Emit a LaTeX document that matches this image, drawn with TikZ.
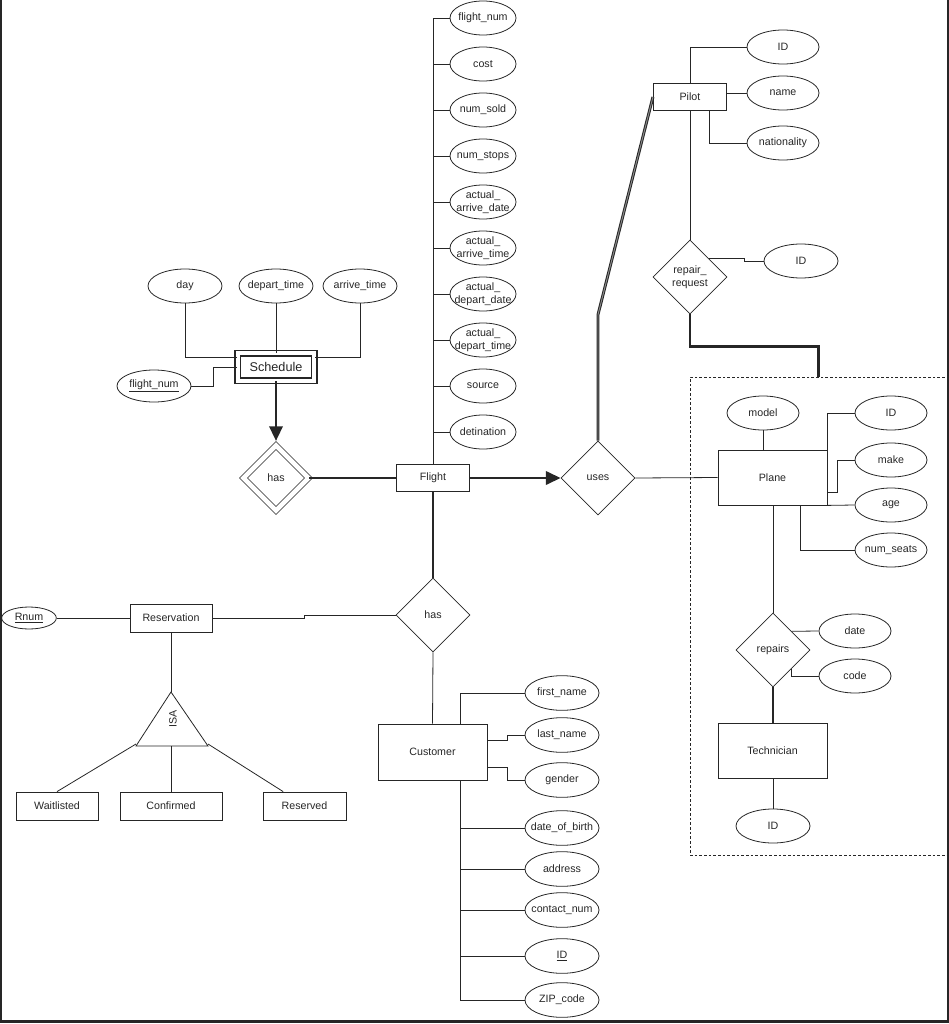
\documentclass[tikz,border=0pt]{standalone}
\usepackage{fontspec}
\setmainfont{Liberation Sans}
\usetikzlibrary{shapes.geometric, arrows.meta, positioning}

\tikzset{
  every node/.style={font=\fontsize{8}{9.5}\selectfont},
  entity/.style={draw, rectangle, inner sep=0pt, minimum width=55pt, minimum height=20pt},
  subentity/.style={entity, minimum width=61.5pt, minimum height=21pt},
  bigentity/.style={entity, minimum width=81.75pt, minimum height=41.25pt},
  weakentity/.style={draw, rectangle, double, double distance=3.2pt, line width=1.1pt, inner sep=0pt,
    minimum width=57.5pt, minimum height=20.5pt, font=\fontsize{9.5}{11}\selectfont},
  attr/.style={draw, ellipse, inner xsep=-6pt, inner ysep=-3pt, minimum width=54pt, minimum height=25.5pt, align=center},
  rel/.style={draw, diamond, aspect=1, inner sep=0pt, minimum width=55.5pt, minimum height=55.5pt, align=center},
  weakrel/.style={rel, double, double distance=3.5pt, minimum width=49pt, minimum height=49pt},
  total/.style={line width=1.8pt},
  tip/.style={-{Triangle[length=11pt, width=10pt]}},
}

\begin{document}
\begin{tikzpicture}[x=0.75pt, y=-0.75pt, color=black!85, line width=0.6pt]
    \useasboundingbox (0,0) rectangle (949,1024);

    % frame
    \draw[line width=2.2pt] (0.8,0) |- (948,1021.5) -- (948,0);

    % flight and its attributes
    \node[entity] (flight) at (433,478) {Flight};
    \node[attr, minimum width=49.5pt] (fnum) at (483,18) {flight\_num};
    \node[attr, minimum width=49.5pt] (cost) at (483,64) {cost};
    \node[attr, minimum width=49.5pt] (nsold) at (483,110) {num\_sold};
    \node[attr, minimum width=49.5pt] (nstops) at (483,156) {num\_stops};
    \node[attr, minimum width=49.5pt] (aadate) at (483,202) {actual\_\\arrive\_date};
    \node[attr, minimum width=49.5pt] (aatime) at (483,248) {actual\_\\arrive\_time};
    \node[attr, minimum width=49.5pt] (addate) at (483,294) {actual\_\\depart\_date};
    \node[attr, minimum width=49.5pt] (adtime) at (483,340) {actual\_\\depart\_time};
    \node[attr, minimum width=49.5pt] (source) at (483,386) {source};
    \node[attr, minimum width=49.5pt] (dest) at (483,432) {detination};

    \draw (flight.north) -- (flight.north |- fnum.west) -- (fnum.west);
    \draw (cost.west) -- (cost.west -| flight);
    \draw (nsold.west) -- (nsold.west -| flight);
    \draw (nstops.west) -- (nstops.west -| flight);
    \draw (aadate.west) -- (aadate.west -| flight);
    \draw (aatime.west) -- (aatime.west -| flight);
    \draw (addate.west) -- (addate.west -| flight);
    \draw (adtime.west) -- (adtime.west -| flight);
    \draw (source.west) -- (source.west -| flight);
    \draw (dest.west) -- (dest.west -| flight);

    % schedule (weak entity)
    \node[weakentity] (sched) at (276,367) {Schedule};
    \node[attr, minimum width=55.5pt] (day) at (185,286) {day};
    \node[attr, minimum width=55.5pt] (dtime) at (276,286) {depart\_time};
    \node[attr, minimum width=55.5pt] (atime) at (360,286) {arrive\_time};
    \node[attr, minimum width=55.5pt, minimum height=24pt] (sfnum) at (154,386) {\underline{flight\_num}};

    \draw (day.south) |- ([yshift=7.5pt]sched.west);
    \draw (dtime.south) -- (sched.north);
    \draw (atime.south) |- ([yshift=7.5pt]sched.east);
    \draw (sfnum.east) -- ++(22,0) |- (sched.west);

    \node[weakrel] (has1) at (276,478) {has};
    \draw[total, tip] (sched.south) -- ([yshift=3pt]has1.north);
    \draw[total] (has1.east) -- (flight.west);

    % uses, pilot
    \node[rel] (uses) at (598,478) {uses};
    \draw[total, tip] (flight.east) -- (uses.west);

    \node[entity] (pilot) at (690,97) {Pilot};
    \node[attr] (pid) at (783,47) {ID};
    \node[attr] (pname) at (783,93) {name};
    \node[attr] (pnat) at (783,143) {nationality};
    \draw (pilot.north) |- (pid.west);
    \draw (pilot.east |- pname) -- (pname.west);
    \draw ([xshift=14.25pt]pilot.south) |- (pnat.west);

    \draw[double=black!45, double distance=0.7pt, line width=0.75pt] (uses.north) -- ++(0,-126) -- (pilot.west);

    \node[rel] (rreq) at (690,277) {repair\_\\request};
    \node[attr, minimum width=55.5pt] (rid) at (801,261) {ID};
    \draw (pilot.south) -- (rreq.north);
    \draw (rreq.north east) -- ++(36,0) |- (rid.west);

    % plane aggregation (dashed)
    \node[draw, dash pattern=on 2pt off 1.5pt, minimum width=192.75pt, minimum height=358.5pt] (aggr) at (818.5,616) {};
    \draw[total] (rreq.south) -- ++(0,32) -| (aggr.north);

    \node[bigentity] (plane) at (772.5,477.5) {Plane};
    \draw (uses.east) -- (plane.west);

    \node[attr] (model) at (763,413) {model};
    \node[attr] (plid) at (891,413) {ID};
    \node[attr] (make) at (891,460) {make};
    \node[attr] (age) at (891,505) {age};
    \node[attr] (nseats) at (891,550) {num\_seats};
    \draw (model.south) -- (model.south |- plane.north);
    \draw (plane.north east) |- (plid.west);
    \draw ([yshift=-10.9pt]plane.east) -- ++(10,0) |- (make.west);
    \draw (plane.south east) -- (age.west);
    \draw ([xshift=20.6pt]plane.south) |- (nseats.west);

    \node[rel] (repairs) at (773,650) {repairs};
    \node[attr] (date) at (855,631) {date};
    \node[attr] (code) at (855,676) {code};
    \draw (plane.south -| repairs) -- (repairs.north);
    \draw (repairs.north east) -- (date.west);
    \draw (repairs.south east) |- (code.west);

    \node[bigentity] (tech) at (772.5,750.5) {Technician};
    \node[attr, minimum width=55.5pt] (tid) at (773,826) {ID};
    \draw[total] (repairs.south) -- (tech.north -| repairs);
    \draw (tech.south -| tid) -- (tid.north);

    % reservation, customer
    \node[rel] (has2) at (433,615) {has};
    \draw[total] (flight.south) -- (has2.north);

    \node[subentity] (resv) at (171,618) {Reservation};
    \node[draw, ellipse, inner sep=-2pt, minimum width=41pt, minimum height=16.5pt] (rnum) at (29,618) {\underline{Rnum}};
    \draw (rnum.east) -- (resv.west);
    \draw (has2.west) -- ++(-91,0) |- (resv.east);

    % isa triangle
    \coordinate (isatop) at (171,692);
    \coordinate (isal) at (136,746);
    \coordinate (isar) at (208,746);
    \draw (isatop) -- (isal) -- (isar) -- cycle;
    \node[rotate=90] (isa) at (173,719) {ISA};
    \draw (resv.south) -- (isatop);

    \node[subentity] (wait) at (57,806) {Waitlisted};
    \node[subentity, minimum width=76.5pt] (conf) at (171,806) {Confirmed};
    \node[subentity, minimum width=62.25pt] (rsvd) at (304.5,806) {Reserved};
    \draw ([yshift=1.5pt]isal) -- (wait.north);
    \draw (conf.north) -- (conf.north |- isal);
    \draw ([yshift=1.5pt]isar) -- ([xshift=-16pt]rsvd.north);

    \node[entity, minimum width=81.75pt, minimum height=42pt] (cust) at (432.5,752) {Customer};
    \draw (has2.south) -- (cust.north);

    \node[attr, minimum width=55.5pt, minimum height=26pt] (fname) at (562,693) {first\_name};
    \node[attr, minimum width=55.5pt, minimum height=26pt] (lname) at (562,735) {last\_name};
    \node[attr, minimum width=55.5pt, minimum height=26pt] (gender) at (562,780) {gender};
    \node[attr, minimum width=55.5pt, minimum height=26pt] (dob) at (562,828) {date\_of\_birth};
    \node[attr, minimum width=55.5pt, minimum height=26pt] (addr) at (562,869) {address};
    \node[attr, minimum width=55.5pt, minimum height=26pt] (cnum) at (562,910) {contact\_num};
    \node[attr, minimum width=55.5pt, minimum height=26pt] (cid) at (562,956) {\underline{ID}};
    \node[attr, minimum width=55.5pt, minimum height=26pt] (zip) at (562,1000) {ZIP\_code};

    \coordinate (cspine) at ([xshift=20.6pt]cust.south);
    \draw ([xshift=20.6pt]cust.north) |- (fname.west);
    \draw ([yshift=9pt]cust.east) -- ++(20,0) |- (lname.west);
    \draw ([yshift=-11.25pt]cust.east) -- ++(20,0) |- (gender.west);
    \draw (cspine) |- (zip.west);
    \draw (dob.west) -- (dob.west -| cspine);
    \draw (addr.west) -- (addr.west -| cspine);
    \draw (cnum.west) -- (cnum.west -| cspine);
    \draw (cid.west) -- (cid.west -| cspine);
\end{tikzpicture}
\end{document}
